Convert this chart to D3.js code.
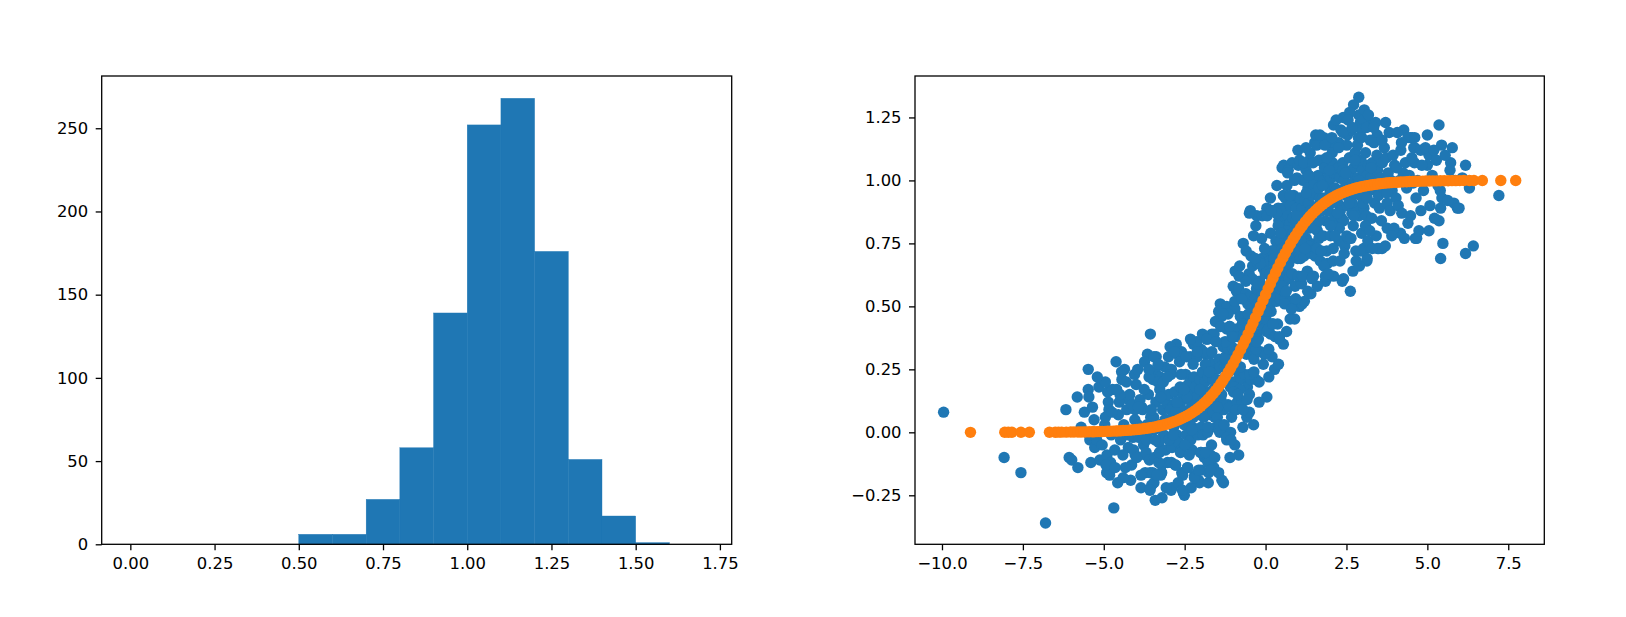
<!DOCTYPE html>
<html lang="en">
<head>
<meta charset="UTF-8">
<title>Histogram and sigmoid fit</title>
<style>
  body { margin: 0; background: #fff; }
  svg { display: block; }
  .tick text { font-family: "DejaVu Sans", sans-serif; font-size: 16.4px; fill: #000; }
  .tick line { stroke: #000; stroke-width: 1.3px; }
</style>
</head>
<body>
<svg id="fig" width="1626" height="617"></svg>
<script src="https://d3js.org/d3.v7.min.js"></script>
<script>
// ---- left panel: histogram ----
const binEdges = [0.0, 0.1, 0.2, 0.3, 0.4, 0.5, 0.6, 0.7, 0.8, 0.9, 1.0, 1.1, 1.2, 1.3, 1.4, 1.5, 1.6, 1.7];
const binCounts = [0, 0, 0, 0, 0, 6, 6, 27, 58, 139, 252, 268, 176, 51, 17, 1, 0];
const histXTicks = [0, 0.25, 0.5, 0.75, 1.0, 1.25, 1.5, 1.75];
const histYTicks = [0, 50, 100, 150, 200, 250];

// ---- right panel: noisy samples (blue) and fitted curve samples (orange) ----
const bluePoints = [
  [-9.95,0.08],[-8.08,-0.10],[-7.56,-0.16],[-6.80,-0.36],
  [-6.17,0.09],[-6.07,-0.10],[-5.99,-0.11],[-5.82,0.14],[-5.80,-0.14],[-5.60,0.08],[-5.48,0.25],[-5.48,0.17],[-5.46,0.14],[-5.43,-0.03],[-5.40,-0.12],[-5.30,0.05],[-5.28,-0.06],[-5.22,-0.03],[-5.12,-0.11],[-5.70,0.02],[-5.45,-0.01],
  [-4.88,0.16],[-4.86,0.12],[-4.62,0.28],[-4.36,0.25],[-4.05,0.23],[-4.00,0.19],[-4.55,0.07],[-4.91,-0.16],[-4.82,-0.17],[-4.69,-0.30],[-4.14,-0.13],[-4.24,-0.06],[-4.03,-0.09],[-4.90,-0.09],[-4.79,-0.12],[-4.24,0.13],[-4.03,0.09],[-3.83,0.10],
  [-3.56,0.39],[-3.65,0.31],[-3.41,0.24],[-3.26,0.22],[-3.72,-0.09],[-3.72,-0.16],[-3.57,-0.16],[-3.41,-0.27],[-3.21,-0.13],[-3.21,-0.16],
  [-2.76,0.35],[-2.95,0.25],[-2.92,-0.23],[-2.51,-0.25],[-2.59,-0.16],[-2.54,-0.24],[-2.90,-0.22],[-2.23,0.35],[-2.07,-0.19],[-2.04,-0.20],[-1.77,-0.20],[-1.30,-0.20],[-1.76,-0.16],[-1.35,-0.19],[-1.70,-0.09],[-0.83,-0.09],[-1.20,-0.03],
  [-1.66,0.39],[-1.40,0.51],[-1.55,0.44],[-0.94,0.64],[-0.90,0.56],[-0.69,0.75],[-0.37,0.78],[-0.47,0.88],[-0.27,0.86],[-0.50,0.87],[0.04,0.89],[0.25,0.88],[0.61,0.93],[0.56,1.06],[0.82,1.07],[0.51,1.05],
  [-0.37,0.03],[-0.58,0.06],[0.04,0.14],[0.28,0.25],[0.40,0.27],[0.43,0.37],[0.65,0.40],[0.76,0.45],[0.78,0.52],[1.05,0.50],[1.13,0.51],[1.85,0.60],[1.85,0.62],[2.37,0.60],[2.62,0.56],[3.03,0.72],[3.13,0.68],[3.46,0.73],[3.60,0.73],
  [1.52,1.15],[2.06,1.15],[1.38,1.11],[1.65,1.08],[2.53,1.18],[2.26,1.15],[2.88,1.33],[2.72,1.30],[2.88,1.26],[2.93,1.23],[2.96,1.20],[3.71,1.23],[3.19,1.22],[3.45,1.18],[3.40,1.23],[4.27,1.20],[4.53,1.17],[4.47,1.17],[4.61,1.13],[5.36,1.22],[5.00,1.18],[5.77,1.13],[5.72,1.07],[6.18,1.06],[4.58,1.13],[5.05,1.10],[5.00,1.06],[4.60,1.07],
  [7.21,0.94],[5.82,0.91],[5.93,0.89],[5.41,0.89],[5.36,0.84],[5.05,0.80],[4.63,0.77],[5.41,0.69],[6.18,0.71],[6.42,0.74],[3.50,0.73],[3.03,0.73],[3.14,0.69],[2.41,0.61],[4.17,0.79],[3.76,0.81],[5.40,0.96],[5.45,0.93],[4.67,0.77],
  // band edges
  [-1.20,0.50],[-1.00,0.58],[-0.80,0.66],[-0.60,0.72],[-0.30,0.82],[-0.10,0.86],[0.15,0.93],[0.35,0.98],[0.70,1.04],[1.00,1.12],[1.25,1.13],[1.80,1.17],[2.10,1.22],[2.40,1.25],[2.60,1.27],[-1.80,0.37],[-2.00,0.33],[-2.60,0.32],[-3.00,0.30],
  [-2.30,-0.22],[-2.00,-0.15],[-1.60,-0.14],[-1.45,-0.16],[-1.10,-0.10],[-0.95,-0.05],[-0.70,0.02],[-0.50,0.08],[-0.20,0.12],[0.10,0.22],[0.20,0.30],[0.55,0.35],[0.90,0.45],[1.20,0.52],[1.40,0.55],[1.60,0.58],[2.10,0.62],[2.70,0.64],[2.90,0.66],
  // -5.0 .. -4.0
  [-4.97,0.03],[-4.93,-0.13],[-4.84,0.09],[-4.77,-0.01],[-4.73,0.17],[-4.66,-0.07],[-4.60,0.00],[-4.57,-0.20],[-4.52,0.12],[-4.95,0.06],
  [-4.48,-0.03],[-4.45,0.24],[-4.41,-0.09],[-4.38,0.03],[-4.33,-0.14],[-4.29,0.09],[-4.26,-0.01],[-4.20,0.15],[-4.17,-0.19],[-4.12,0.11],[-4.08,-0.07],[-4.04,0.05],[-4.44,0.21],
  [-5.35,0.10],[-5.15,0.18],[-5.05,-0.05],[-4.95,0.20],[-4.75,0.08],[-4.65,-0.14],[-4.50,0.15],[-4.40,-0.18],[-4.30,0.20],[-4.10,-0.02],[-5.20,0.22],[-4.60,0.17],
  // -4.0 .. -3.0
  [-3.98,-0.10],[-3.95,0.03],[-3.91,-0.02],[-3.88,0.13],[-3.85,-0.17],[-3.80,0.09],[-3.77,-0.05],[-3.74,0.28],[-3.69,-0.08],[-3.66,0.03],[-3.62,0.15],[-3.59,-0.11],[-3.55,0.06],[-3.52,-0.21],[-3.93,0.10],[-3.63,0.00],
  [-3.48,0.21],[-3.46,0.06],[-3.43,-0.10],[-3.39,0.12],[-3.36,0.02],[-3.33,0.20],[-3.30,-0.04],[-3.28,0.03],[-3.24,-0.17],[-3.22,0.15],[-3.18,0.09],[-3.15,-0.01],[-3.12,0.26],[-3.09,-0.07],[-3.06,0.05],[-3.03,-0.12],[-3.01,0.11],[-3.44,0.01],[-3.27,0.17],[-3.14,0.13],
  [-3.95,0.25],[-3.85,-0.22],[-3.75,0.17],[-3.68,-0.03],[-3.60,0.22],[-3.45,-0.20],[-3.38,0.30],[-3.30,-0.12],
  // -3.0 .. -2.0
  [-2.99,0.15],[-2.97,-0.03],[-2.94,0.09],[-2.91,0.25],[-2.89,-0.06],[-2.86,0.06],[-2.84,0.02],[-2.81,0.16],[-2.79,-0.13],[-2.76,0.12],[-2.74,-0.01],[-2.71,0.31],[-2.69,-0.04],[-2.66,0.06],[-2.64,0.18],[-2.61,-0.07],[-2.58,0.09],[-2.56,-0.17],[-2.53,0.13],[-2.51,0.03],[-2.93,0.23],[-2.78,0.08],[-2.63,-0.08],[-2.55,0.14],
  [-2.49,0.05],[-2.47,0.23],[-2.45,-0.01],[-2.43,0.07],[-2.41,-0.14],[-2.39,0.19],[-2.37,0.13],[-2.35,0.03],[-2.33,0.30],[-2.31,-0.03],[-2.29,0.10],[-2.27,-0.07],[-2.25,0.16],[-2.23,0.06],[-2.21,0.22],[-2.19,-0.17],[-2.17,0.18],[-2.15,0.00],[-2.13,0.14],[-2.11,0.30],[-2.09,-0.01],[-2.07,0.11],[-2.05,0.07],[-2.03,0.21],[-2.01,-0.08],[-2.44,0.14],[-2.26,0.02],[-2.12,0.36],
  // -2.0 .. -1.0
  [-1.99,0.02],[-1.97,0.12],[-1.95,0.24],[-1.93,-0.01],[-1.91,0.16],[-1.89,-0.10],[-1.87,0.20],[-1.85,0.10],[-1.83,0.31],[-1.81,0.16],[-1.79,0.00],[-1.77,0.22],[-1.75,0.12],[-1.73,0.31],[-1.71,0.07],[-1.69,0.14],[-1.67,-0.05],[-1.65,0.27],[-1.63,0.21],[-1.61,0.11],[-1.59,0.39],[-1.57,0.06],[-1.55,0.18],[-1.53,0.02],[-1.51,0.25],[-1.96,0.09],[-1.86,0.27],[-1.78,-0.12],[-1.70,0.24],[-1.62,0.08],[-1.54,0.21],[-1.92,0.32],
  [-1.49,0.06],[-1.47,0.19],[-1.46,0.15],[-1.44,0.29],[-1.42,0.00],[-1.40,0.26],[-1.38,0.13],[-1.36,0.46],[-1.35,0.11],[-1.33,0.21],[-1.31,0.34],[-1.29,0.09],[-1.27,0.26],[-1.26,0.00],[-1.24,0.30],[-1.22,0.20],[-1.20,0.41],[-1.18,0.27],[-1.16,0.11],[-1.15,0.33],[-1.13,0.24],[-1.11,0.42],[-1.09,0.18],[-1.07,0.25],[-1.05,0.06],[-1.03,0.39],[-1.01,0.33],[-1.48,0.13],[-1.39,0.42],[-1.30,0.11],[-1.21,0.25],[-1.12,0.10],[-1.04,0.34],[-1.43,0.16],[-1.25,0.36],[-1.08,0.00],
  // -1.0 .. 0.0
  [-0.99,0.38],[-0.98,0.20],[-0.96,0.32],[-0.95,0.49],[-0.93,0.18],[-0.92,0.30],[-0.90,0.27],[-0.89,0.41],[-0.87,0.12],[-0.86,0.38],[-0.84,0.25],[-0.83,0.57],[-0.81,0.23],[-0.79,0.33],[-0.78,0.46],[-0.76,0.21],[-0.75,0.38],[-0.73,0.12],[-0.72,0.43],[-0.70,0.33],[-0.68,0.53],[-0.67,0.39],[-0.65,0.23],[-0.64,0.46],[-0.62,0.36],[-0.61,0.55],[-0.59,0.31],[-0.58,0.38],[-0.56,0.18],[-0.55,0.51],[-0.53,0.45],[-0.52,0.36],[-0.51,0.63],[-0.97,0.18],[-0.88,0.32],[-0.80,0.17],[-0.71,0.43],[-0.63,0.35],[-0.57,0.52],[-0.50,0.15],
  [-0.49,0.34],[-0.48,0.41],[-0.46,0.21],[-0.45,0.54],[-0.43,0.49],[-0.42,0.39],[-0.40,0.66],[-0.39,0.33],[-0.37,0.46],[-0.36,0.29],[-0.34,0.53],[-0.33,0.43],[-0.31,0.60],[-0.30,0.21],[-0.28,0.57],[-0.27,0.39],[-0.25,0.51],[-0.24,0.67],[-0.22,0.37],[-0.21,0.49],[-0.19,0.46],[-0.18,0.60],[-0.16,0.32],[-0.15,0.57],[-0.13,0.45],[-0.12,0.77],[-0.10,0.43],[-0.09,0.53],[-0.07,0.65],[-0.06,0.41],[-0.04,0.57],[-0.03,0.31],[-0.01,0.63],[-0.47,0.39],[-0.41,0.61],[-0.35,0.47],[-0.29,0.33],[-0.23,0.57],[-0.17,0.48],[-0.11,0.69],[-0.05,0.46],[0.00,0.55],
  // 0.0 .. 1.0
  [0.01,0.45],[0.02,0.57],[0.04,0.40],[0.05,0.64],[0.07,0.55],[0.08,0.71],[0.10,0.33],[0.11,0.68],[0.13,0.50],[0.14,0.63],[0.16,0.79],[0.17,0.48],[0.19,0.61],[0.20,0.57],[0.22,0.72],[0.23,0.43],[0.25,0.69],[0.26,0.56],[0.28,0.88],[0.29,0.54],[0.31,0.64],[0.32,0.76],[0.34,0.52],[0.35,0.68],[0.37,0.43],[0.38,0.74],[0.40,0.64],[0.41,0.84],[0.43,0.69],[0.44,0.53],[0.46,0.76],[0.47,0.66],[0.49,0.85],[0.03,0.48],[0.09,0.57],[0.15,0.39],[0.21,0.72],[0.27,0.67],[0.33,0.60],[0.39,0.89],[0.45,0.57],[0.50,0.70],
  [0.51,0.61],[0.52,0.73],[0.54,0.89],[0.55,0.59],[0.57,0.71],[0.58,0.67],[0.60,0.82],[0.61,0.53],[0.63,0.79],[0.64,0.66],[0.66,0.98],[0.67,0.63],[0.69,0.74],[0.70,0.86],[0.72,0.61],[0.73,0.77],[0.75,0.52],[0.76,0.83],[0.78,0.73],[0.79,0.93],[0.81,0.79],[0.82,0.63],[0.84,0.85],[0.85,0.75],[0.87,0.94],[0.88,0.70],[0.90,0.78],[0.91,0.58],[0.93,0.90],[0.94,0.84],[0.96,0.75],[0.97,1.01],[0.99,0.69],[0.53,0.71],[0.59,0.56],[0.65,0.80],[0.71,0.71],[0.77,0.90],[0.83,0.52],[0.95,0.89],
  // 1.0 .. 2.0
  [1.01,1.06],[1.03,0.71],[1.04,0.81],[1.06,0.93],[1.08,0.69],[1.09,0.85],[1.11,0.59],[1.13,0.89],[1.14,0.80],[1.16,1.00],[1.18,0.86],[1.19,0.70],[1.21,0.92],[1.23,0.83],[1.24,1.00],[1.26,0.77],[1.28,0.84],[1.29,0.64],[1.31,0.97],[1.33,0.91],[1.34,0.81],[1.36,1.08],[1.38,0.75],[1.39,0.88],[1.41,0.71],[1.43,0.94],[1.44,0.84],[1.46,1.01],[1.48,0.62],[1.49,0.97],[1.05,0.73],[1.15,0.86],[1.25,1.04],[1.35,0.74],[1.45,0.87],[1.12,0.79],
  [1.51,0.99],[1.53,0.70],[1.54,0.95],[1.56,0.82],[1.58,1.14],[1.60,0.80],[1.62,0.90],[1.63,1.02],[1.65,0.77],[1.67,0.93],[1.69,0.68],[1.71,0.98],[1.72,0.88],[1.74,1.08],[1.76,0.93],[1.78,0.78],[1.80,1.00],[1.81,0.90],[1.83,1.08],[1.85,0.84],[1.87,0.91],[1.89,0.72],[1.90,1.04],[1.92,0.98],[1.94,0.88],[1.96,1.15],[1.98,0.83],[1.99,0.95],[1.55,0.73],[1.64,0.97],[1.73,0.88],[1.82,1.05],[1.91,0.67],[1.97,1.02],
  // 2.0 .. 3.0
  [2.01,0.78],[2.03,1.01],[2.05,0.91],[2.07,1.07],[2.09,0.68],[2.11,1.03],[2.13,0.85],[2.15,0.97],[2.17,1.13],[2.19,0.82],[2.21,0.95],[2.23,0.91],[2.25,1.05],[2.27,0.76],[2.29,1.01],[2.31,0.88],[2.33,1.20],[2.35,0.85],[2.37,0.95],[2.39,1.07],[2.41,0.84],[2.43,1.00],[2.45,0.74],[2.47,1.04],[2.49,0.94],[2.06,1.11],[2.18,0.96],[2.28,0.81],[2.38,1.04],[2.46,0.95],
  [2.51,1.14],[2.53,0.90],[2.55,0.97],[2.57,0.77],[2.59,1.09],[2.61,1.03],[2.63,0.93],[2.65,1.20],[2.67,0.87],[2.69,0.99],[2.71,0.82],[2.73,1.05],[2.75,0.95],[2.77,1.11],[2.79,0.72],[2.81,1.07],[2.83,0.89],[2.85,1.01],[2.87,1.17],[2.89,0.86],[2.91,0.98],[2.93,0.94],[2.95,1.08],[2.97,0.79],[2.99,1.04],[2.68,0.91],
  // 3.0 .. 6.5
  [3.02,1.24],[3.04,0.89],[3.07,0.99],[3.09,1.11],[3.11,0.86],[3.14,1.02],[3.16,0.76],[3.18,1.06],[3.21,0.96],[3.23,1.16],[3.25,1.01],[3.28,0.85],[3.30,1.07],[3.32,0.97],[3.35,1.15],[3.37,0.91],[3.39,0.98],[3.42,0.78],[3.44,1.10],[3.46,1.04],[3.49,0.94],[3.12,1.21],
  [3.52,0.89],[3.55,1.01],[3.58,0.84],[3.61,1.07],[3.64,0.97],[3.67,1.13],[3.70,0.74],[3.73,1.09],[3.76,0.91],[3.79,1.03],[3.82,1.19],[3.85,0.88],[3.88,1.00],[3.91,0.96],[3.94,1.10],[3.97,0.81],[3.99,1.06],
  [4.03,0.93],[4.07,1.19],[4.10,0.90],[4.14,1.00],[4.18,1.12],[4.21,0.87],[4.25,1.03],[4.29,0.77],[4.32,1.07],[4.36,0.97],[4.40,1.17],[4.44,1.02],[4.48,0.86],
  [4.52,1.09],[4.56,0.99],[4.61,1.17],[4.65,0.93],[4.70,1.00],[4.74,0.80],[4.79,1.12],[4.83,1.06],[4.88,0.96],[4.94,1.13],
  [5.08,0.90],[5.15,1.02],[5.22,0.85],[5.28,1.08],[5.33,0.98],[5.44,1.14],[5.48,0.75],
  [5.55,1.10],[5.63,0.92],[5.70,1.04],[5.86,1.00],[5.98,0.89],[6.08,1.01],[6.30,0.97],
  [3.60,1.16],[3.90,0.78],[4.20,1.15],[4.40,0.83],[4.80,0.88],[5.20,1.12],[3.75,0.95],[4.05,1.05],
  // wider spread through the dense core
  [-3.61,0.25],[-3.57,-0.23],[-3.53,0.09],[-3.49,-0.16],[-3.45,0.30],[-3.41,-0.03],
  [-3.16,0.20],[-3.20,-0.26],[-3.24,0.14],[-3.28,-0.08],[-3.32,0.27],[-3.36,-0.17],
  [-3.11,0.05],[-3.07,-0.22],[-3.03,0.22],[-2.99,-0.03],[-2.95,0.34],[-2.91,-0.12],
  [-2.66,0.28],[-2.70,-0.20],[-2.74,0.12],[-2.78,-0.13],[-2.82,0.32],[-2.86,-0.01],
  [-2.61,0.23],[-2.57,-0.23],[-2.53,0.17],[-2.49,-0.05],[-2.45,0.30],[-2.41,-0.14],
  [-2.16,0.11],[-2.20,-0.18],[-2.24,0.27],[-2.28,0.01],[-2.32,0.37],[-2.36,-0.09],
  [-2.11,0.32],[-2.07,-0.15],[-2.03,0.17],[-1.99,-0.08],[-1.95,0.39],[-1.91,0.06],
  [-1.66,0.32],[-1.70,-0.15],[-1.74,0.24],[-1.78,0.02],[-1.82,0.37],[-1.86,-0.08],
  [-1.61,0.17],[-1.57,-0.10],[-1.53,0.36],[-1.49,0.10],[-1.45,0.48],[-1.41,0.03],
  [-1.16,0.47],[-1.20,-0.02],[-1.24,0.29],[-1.28,0.03],[-1.32,0.47],[-1.36,0.15],
  [-1.11,0.42],[-1.07,-0.03],[-1.03,0.38],[-0.99,0.16],[-0.95,0.52],[-0.91,0.09],
  [-0.66,0.38],[-0.70,0.09],[-0.74,0.53],[-0.78,0.26],[-0.82,0.62],[-0.86,0.15],
  [-0.61,0.60],[-0.57,0.13],[-0.53,0.47],[-0.49,0.23],[-0.45,0.70],[-0.41,0.38],
  [-0.16,0.67],[-0.20,0.20],[-0.24,0.59],[-0.28,0.36],[-0.32,0.69],[-0.36,0.24],
  [-0.11,0.54],[-0.07,0.27],[-0.03,0.73],[0.01,0.48],[0.05,0.86],[0.09,0.41],
  [0.34,0.87],[0.30,0.38],[0.26,0.69],[0.22,0.43],[0.18,0.88],[0.14,0.54],
  [0.39,0.82],[0.43,0.38],[0.47,0.79],[0.51,0.58],[0.55,0.94],[0.59,0.51],
  [0.84,0.79],[0.80,0.49],[0.76,0.94],[0.72,0.67],[0.68,1.03],[0.64,0.56],
  [0.89,1.00],[0.93,0.53],[0.97,0.86],[1.01,0.62],[1.05,1.08],[1.09,0.76],
  [1.34,1.02],[1.30,0.56],[1.26,0.95],[1.22,0.73],[1.18,1.07],[1.14,0.62],
  [1.39,0.88],[1.43,0.61],[1.47,1.07],[1.51,0.81],[1.55,1.18],[1.59,0.73],
  [1.84,1.14],[1.80,0.66],[1.76,0.98],[1.72,0.72],[1.68,1.18],[1.64,0.84],
  [1.89,1.09],[1.93,0.63],[1.97,1.04],[2.01,0.82],[2.05,1.17],[2.09,0.73],
  [2.34,0.96],[2.30,0.68],[2.26,1.13],[2.22,0.87],[2.18,1.24],[2.14,0.78],
  [2.39,1.19],[2.43,0.71],[2.47,1.03],[2.51,0.78],[2.55,1.24],[2.59,0.91],
  [2.84,1.14],[2.80,0.68],[2.76,1.08],[2.72,0.86],[2.68,1.21],[2.64,0.77],
  [2.89,1.00],[2.93,0.72],[2.97,1.17],[3.01,0.91],[3.05,1.28],[3.09,0.82],
  [3.34,1.21],[3.30,0.73],[3.26,1.05],[3.22,0.80],[3.18,1.26],[3.14,0.93]
];

const orangePoints = [
  [-9.12,0.0000],[-8.06,0.0001],[-7.95,0.0001],[-7.84,0.0001],[-7.56,0.0002],[-7.30,0.0002],[-6.68,0.0005],[-6.50,0.0006],[-6.40,0.0007],[-6.30,0.0008],
  [-6.16,0.0009],[-6.02,0.0010],[-5.92,0.0012],[-5.80,0.0014],[-5.71,0.0015],[-5.62,0.0017],[-5.55,0.0018],[-5.45,0.0021],[-5.36,0.0023],[-5.30,0.0024],
  [-5.21,0.0027],[-5.12,0.0030],[-5.05,0.0033],[-4.96,0.0036],[-4.88,0.0040],[-4.80,0.0044],[-4.71,0.0049],[-4.62,0.0054],[-4.55,0.0058],[-4.47,0.0064],
  [-4.40,0.0070],[-4.31,0.0077],[-4.22,0.0086],[-4.15,0.0093],[-4.06,0.0103],[-3.98,0.0113],[-3.90,0.0124],[-3.81,0.0138],[-3.74,0.0149],[-3.66,0.0164],
  [-3.57,0.0182],[-3.50,0.0197],[-3.42,0.0216],[-3.33,0.0239],[-3.26,0.0259],[-3.18,0.0284],[-3.10,0.0311],[-3.02,0.0340],[-2.95,0.0368],[-2.86,0.0408],
  [-2.78,0.0446],[-2.70,0.0487],[-2.63,0.0527],[-2.55,0.0576],[-2.47,0.0629],[-2.40,0.0679],[-2.31,0.0748],[-2.24,0.0807],[-2.16,0.0879],[-2.08,0.0957],
  [-2.00,0.1041],[-1.92,0.1132],[-1.85,0.1216],[-1.77,0.1319],[-1.69,0.1431],[-1.62,0.1534],[-1.54,0.1659],[-1.46,0.1793],[-1.38,0.1936],[-1.31,0.2067],
  [-1.23,0.2224],[-1.15,0.2390],[-1.08,0.2543],[-1.00,0.2723],[-0.92,0.2913],[-0.85,0.3086],[-0.77,0.3289],[-0.69,0.3498],[-0.62,0.3687],[-0.54,0.3906],
  [-0.46,0.4131],[-0.39,0.4332],[-0.31,0.4561],[-0.23,0.4795],[-0.16,0.5000],[-0.08,0.5235],[0.00,0.5466],[0.08,0.5698],[0.15,0.5897],[0.23,0.6121],
  [0.31,0.6341],[0.38,0.6529],[0.46,0.6738],[0.54,0.6940],[0.61,0.7111],[0.69,0.7300],[0.77,0.7480],[0.85,0.7653],[0.92,0.7797],[1.00,0.7953],
  [1.08,0.8101],[1.15,0.8224],[1.23,0.8356],[1.31,0.8481],[1.38,0.8584],[1.46,0.8693],[1.54,0.8796],[1.62,0.8892],[1.69,0.8971],[1.77,0.9053],
  [1.85,0.9131],[1.92,0.9194],[2.00,0.9260],[2.08,0.9322],[2.16,0.9379],[2.24,0.9431],[2.31,0.9473],[2.40,0.9524],[2.48,0.9565],[2.55,0.9597],
  [2.63,0.9632],[2.72,0.9667],[2.80,0.9696],[2.88,0.9723],[2.96,0.9747],[3.05,0.9772],[3.13,0.9792],[3.22,0.9812],[3.30,0.9829],[3.38,0.9844],
  [3.47,0.9859],[3.55,0.9872],[3.64,0.9884],[3.73,0.9896],[3.82,0.9906],[3.90,0.9914],[4.00,0.9924],[4.08,0.9930],[4.17,0.9937],[4.26,0.9944],
  [4.36,0.9950],[4.45,0.9955],[4.55,0.9960],[4.64,0.9964],[4.74,0.9968],[4.85,0.9972],[4.95,0.9975],[5.06,0.9978],[5.17,0.9980],[5.28,0.9983],
  [5.40,0.9985],[5.52,0.9987],[5.64,0.9989],[5.76,0.9990],[5.88,0.9991],[6.00,0.9993],[6.13,0.9994],[6.30,0.9995],[6.44,0.9996],[6.70,0.9997],
  [7.27,0.9998],[7.73,0.9999]
];
const scatXTicks = [-10, -7.5, -5, -2.5, 0, 2.5, 5, 7.5];
const scatYTicks = [-0.25, 0, 0.25, 0.5, 0.75, 1.0, 1.25];

// layout (pixels)
const panelTop = 76, panelBottom = 544.3;
const leftBox = { x0: 101.7, x1: 731.7 };
const rightBox = { x0: 915, x1: 1544.3 };
const blue = "#1f77b4", orange = "#ff7f0e";
const dotR = 5.7;

const svg = d3.select("#fig");

// matplotlib-like 5% margin around the data range
function padded(lo, hi) {
    const m = (hi - lo) * 0.05;
    return [lo - m, hi + m];
}

function drawAxes(box, x, y, xTicks, yTicks, xFmt, yFmt) {
    const gx = svg.append("g")
        .attr("transform", `translate(0,${panelBottom})`)
        .call(d3.axisBottom(x).tickValues(xTicks).tickFormat(d3.format(xFmt)).tickSize(6).tickPadding(7.5));
    gx.select(".domain").remove();

    const gy = svg.append("g")
        .attr("transform", `translate(${box.x0},0)`)
        .call(d3.axisLeft(y).tickValues(yTicks).tickFormat(d3.format(yFmt)).tickSize(6).tickPadding(7.5));
    gy.select(".domain").remove();

    // spines
    svg.append("rect")
        .attr("x", box.x0).attr("y", panelTop)
        .attr("width", box.x1 - box.x0).attr("height", panelBottom - panelTop)
        .attr("fill", "none").attr("stroke", "#000").attr("stroke-width", 1.3);
}

// ---------- histogram ----------
const hx = d3.scaleLinear()
    .domain(padded(binEdges[0], binEdges[binEdges.length - 1]))
    .range([leftBox.x0, leftBox.x1]);
const hy = d3.scaleLinear()
    .domain([0, d3.max(binCounts) * 1.05])
    .range([panelBottom, panelTop]);

const bins = binCounts.map((c, i) => ({ x0: binEdges[i], x1: binEdges[i + 1], count: c }))
    .filter(d => d.count > 0);

svg.append("g").selectAll("rect")
    .data(bins)
    .enter().append("rect")
    .attr("x", d => hx(d.x0))
    .attr("width", d => hx(d.x1) - hx(d.x0))
    .attr("y", d => hy(d.count))
    .attr("height", d => hy(0) - hy(d.count))
    .attr("fill", blue)
    .attr("stroke", blue)
    .attr("stroke-width", 0.4);

drawAxes(leftBox, hx, hy, histXTicks, histYTicks, ".2f", "d");

// ---------- scatter ----------
const allX = bluePoints.map(d => d[0]).concat(orangePoints.map(d => d[0]));
const allY = bluePoints.map(d => d[1]).concat(orangePoints.map(d => d[1]));
const sx = d3.scaleLinear().domain(padded(d3.min(allX), d3.max(allX))).range([rightBox.x0, rightBox.x1]);
const sy = d3.scaleLinear().domain(padded(d3.min(allY), d3.max(allY))).range([panelBottom, panelTop]);

svg.append("clipPath").attr("id", "scatClip")
    .append("rect")
    .attr("x", rightBox.x0).attr("y", panelTop)
    .attr("width", rightBox.x1 - rightBox.x0).attr("height", panelBottom - panelTop);

const plot = svg.append("g").attr("clip-path", "url(#scatClip)");

plot.append("g").selectAll("circle")
    .data(bluePoints)
    .enter().append("circle")
    .attr("cx", d => sx(d[0]))
    .attr("cy", d => sy(d[1]))
    .attr("r", dotR)
    .attr("fill", blue);

plot.append("g").selectAll("circle")
    .data(orangePoints)
    .enter().append("circle")
    .attr("cx", d => sx(d[0]))
    .attr("cy", d => sy(d[1]))
    .attr("r", dotR)
    .attr("fill", orange);

drawAxes(rightBox, sx, sy, scatXTicks, scatYTicks, ".1f", ".2f");
</script>
</body>
</html>
